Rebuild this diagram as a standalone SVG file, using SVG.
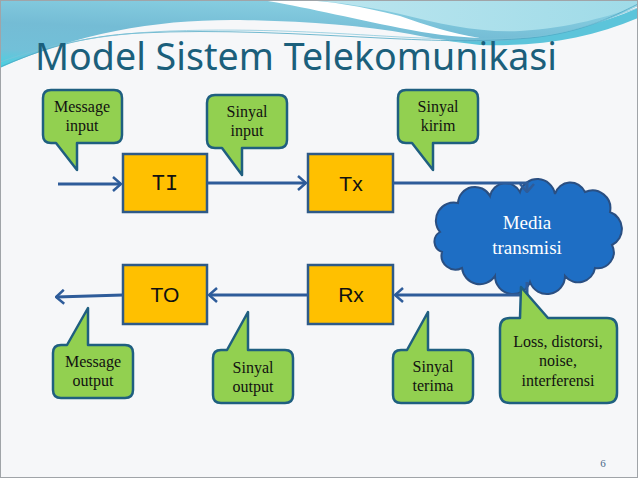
<svg xmlns="http://www.w3.org/2000/svg" width="638" height="478" viewBox="0 0 638 478">
<defs>
<linearGradient id="gl" x1="0" y1="1" x2="0.35" y2="0">
<stop offset="0" stop-color="#45d2e2"/>
<stop offset="0.25" stop-color="#72c0d8"/>
<stop offset="0.6" stop-color="#74bcd5"/>
<stop offset="1" stop-color="#86cde0"/>
</linearGradient>
<linearGradient id="gr" x1="0" y1="0" x2="1" y2="0">
<stop offset="0" stop-color="#bde6ef"/>
<stop offset="1" stop-color="#9fdbe8"/>
</linearGradient>
<marker id="ah" viewBox="0 0 10 16" markerWidth="10" markerHeight="16" markerUnits="userSpaceOnUse" refX="9" refY="8" orient="auto">
<path d="M1,1 L9,8 L1,15" fill="none" stroke="#2e5c9a" stroke-width="2.5" stroke-linejoin="miter"/>
</marker>
<style>
.box{fill:#ffc000;stroke:#2e5a88;stroke-width:2.5}
.call{fill:#92d050;stroke:#1f5f80;stroke-width:2.5;stroke-linejoin:round}
.ct{font-family:"Liberation Serif","Times New Roman",serif;font-size:16px;fill:#111;text-anchor:middle}
.mono{font-family:"Liberation Mono","Courier New",monospace;font-size:22px;fill:#111;text-anchor:middle}
.sans{font-family:"Liberation Sans",Arial,sans-serif;font-size:21px;fill:#111;text-anchor:middle}
.conn{fill:none;stroke:#2e5c9a;stroke-width:3;marker-end:url(#ah)}
</style>
</defs>
<rect x="0" y="0" width="638" height="478" fill="#f6f7f9"/>
<!-- header decoration -->
<path d="M0,0 H638 V6 C600,24 560,40 505,43 C470,44 440,40 410,34 C360,25 300,21 240,20 C160,19 80,32 0,68 Z" fill="url(#gl)"/>
<path d="M300,0 H638 V6 C610,16 570,28 520,31 C480,33 440,24 400,14 C360,5 330,1 300,0 Z" fill="url(#gr)"/>
<path d="M262,0 C300,6 350,18 400,28 C430,34 455,37 480,38 C450,33 425,25 400,16 C360,6 330,1 300,0 Z" fill="#ffffff"/>
<path d="M440,40 C520,47 585,30 638,8 V18 C590,38 540,47 480,45 Z" fill="#5cc4da"/>
<path d="M0,67 C40,50 80,36 140,33 C220,29 300,34 380,38 C440,41 480,42 530,38 C580,33 610,18 638,4" fill="none" stroke="#4fa8c4" stroke-width="0.8"/>
<path d="M0,62 C50,44 100,34 170,31 C260,28 330,33 400,37 C460,40 500,40 540,36 C585,30 615,15 638,8" fill="none" stroke="#7cc3d8" stroke-width="0.7"/>
<text x="35" y="70" font-family="'Noto Sans','Open Sans',sans-serif" font-size="38" fill="#1b5f7b" textLength="522" lengthAdjust="spacingAndGlyphs">Model Sistem Telekomunikasi</text>
<rect x="0.5" y="0.5" width="637" height="477" fill="none" stroke="#a0a4a8" stroke-width="1"/>

<g id="TI"><rect class="box" x="123" y="154" width="84" height="58"/><text class="mono" x="165" y="190">TI</text></g>
<g id="Tx"><rect class="box" x="308" y="154" width="85" height="58"/><text class="sans" x="351" y="191">Tx</text></g>
<g id="TO"><rect class="box" x="123" y="265" width="84" height="59"/><text class="sans" x="165" y="302">TO</text></g>
<g id="Rx"><rect class="box" x="308" y="265" width="85" height="59"/><text class="sans" x="351" y="302">Rx</text></g>

<g id="media">
<path d="M440,232 A18,18 0 0 1 458,203 A17,17 0 0 1 490,196 A16,16 0 0 1 520,192 A18,18 0 0 1 555,194 A16,16 0 0 1 585,192 A18,18 0 0 1 610,212 A18,18 0 0 1 612,245 A16,16 0 0 1 595,268 A17,17 0 0 1 565,276 A18,18 0 0 1 530,282 A18,18 0 0 1 495,276 A18,18 0 0 1 462,268 A14,14 0 0 1 442,252 A11,11 0 0 1 440,232 Z" fill="#1e6ec4" stroke="#2a4f82" stroke-width="2"/>
<text x="527" y="229" font-family="'Liberation Serif',serif" font-size="19" fill="#ffffff" text-anchor="middle">Media</text>
<text x="527" y="254" font-family="'Liberation Serif',serif" font-size="19" fill="#ffffff" text-anchor="middle">transmisi</text>
</g>

<g id="connectors">
<path class="conn" d="M58,184 H121"/>
<path class="conn" d="M207,183 H306"/>
<path class="conn" d="M393,183 H527 V192"/>
<path class="conn" d="M527,282 V295 H395"/>
<path class="conn" d="M308,295 H209"/>
<path class="conn" d="M123,295 L56,297"/>
</g>

<g id="msg-input">
<path class="call" d="M51,90 H114 Q122,90 122,98 V135 Q122,143 114,143 H77 L77,170 L56,143 H51 Q43,143 43,135 V98 Q43,90 51,90 Z"/>
<text class="ct" x="82" y="112">Message</text><text class="ct" x="82" y="131">input</text>
</g>
<g id="sinyal-input">
<path class="call" d="M215,95 H279 Q287,95 287,103 V140 Q287,148 279,148 H242 L242,175 L222,148 H215 Q207,148 207,140 V103 Q207,95 215,95 Z"/>
<text class="ct" x="247" y="117">Sinyal</text><text class="ct" x="247" y="136">input</text>
</g>
<g id="sinyal-kirim">
<path class="call" d="M406,90 H470 Q478,90 478,98 V135 Q478,143 470,143 H433 L433,170 L412,143 H406 Q398,143 398,135 V98 Q398,90 406,90 Z"/>
<text class="ct" x="438" y="112">Sinyal</text><text class="ct" x="438" y="131">kirim</text>
</g>
<g id="msg-output">
<path class="call" d="M61,345 H67 L88,308 V345 H125 Q133,345 133,353 V390 Q133,398 125,398 H61 Q53,398 53,390 V353 Q53,345 61,345 Z"/>
<text class="ct" x="93" y="367">Message</text><text class="ct" x="93" y="386">output</text>
</g>
<g id="sinyal-output">
<path class="call" d="M221,350 H227 L248,312 V350 H285 Q293,350 293,358 V395 Q293,403 285,403 H221 Q213,403 213,395 V358 Q213,350 221,350 Z"/>
<text class="ct" x="253" y="373">Sinyal</text><text class="ct" x="253" y="392">output</text>
</g>
<g id="sinyal-terima">
<path class="call" d="M401,350 H407 L428,312 V350 H465 Q473,350 473,358 V395 Q473,403 465,403 H401 Q393,403 393,395 V358 Q393,350 401,350 Z"/>
<text class="ct" x="433" y="372">Sinyal</text><text class="ct" x="433" y="391">terima</text>
</g>
<g id="loss">
<path class="call" d="M510,318 H520 L521,287 L548,318 H607 Q617,318 617,328 V393 Q617,403 607,403 H510 Q500,403 500,393 V328 Q500,318 510,318 Z"/>
<text class="ct" x="558" y="347">Loss, distorsi,</text><text class="ct" x="558" y="366">noise,</text><text class="ct" x="558" y="386">interferensi</text>
</g>
<text x="603" y="467" font-family="'Liberation Serif',serif" font-size="11" fill="#4a6a8a" text-anchor="middle">6</text>
</svg>
